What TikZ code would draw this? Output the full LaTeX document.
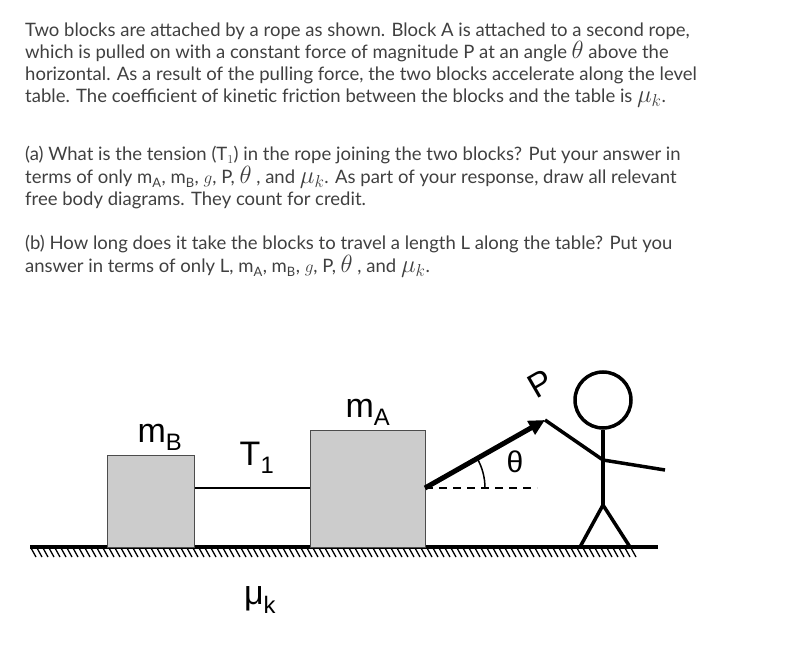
\documentclass[tikz,border=0pt]{standalone}
\usepackage{fontspec}
\setmainfont{Lato}
\newfontfamily\arial{Liberation Sans}
\usetikzlibrary{arrows.meta}
\newcommand{\bth}{{\fontsize{25}{22}\selectfont$\theta$}}
\newcommand{\bmu}{{\fontsize{25}{22}\selectfont$\mu_k$}}
\begin{document}
\begin{tikzpicture}[x=1pt,y=-1pt,
  txt/.style={anchor=base west,inner sep=0pt,font=\fontsize{18.5}{22}\selectfont,text=black!75},
  lbl/.style={font=\arial\fontsize{34}{36}\selectfont,inner sep=0pt},
  blockbox/.style={draw=black!70,fill=black!20,line width=0.8pt},
  stick/.style={line width=3.5pt}]
\useasboundingbox (0,0) rectangle (809,668);
\node[txt] (l1) at (25,37) {Two blocks are attached by a rope as shown. Block A is attached to a second rope,};
\node[txt] (l2) at (25,59) {which is pulled on with a constant force of magnitude P at an angle \bth{} above the};
\node[txt] (l3) at (25,81) {horizontal. As a result of the pulling force, the two blocks accelerate along the level};
\node[txt] (l4) at (25,103) {table. The coefficient of kinetic friction between the blocks and the table is \bmu.};
\node[txt] (l5) at (25,161) {(a) What is the tension (T$_1$) in the rope joining the two blocks? Put your answer in};
\node[txt] (l6) at (25,184) {terms of only m$_\mathrm{A}$, m$_\mathrm{B}$, $g$, P, \bth{} , and \bmu. As part of your response, draw all relevant};
\node[txt] (l7) at (25,206) {free body diagrams. They count for credit.};
\node[txt] (l8) at (25,250) {(b) How long does it take the blocks to travel a length L along the table? Put you};
\node[txt] (l9) at (25,273) {answer in terms of only L, m$_\mathrm{A}$, m$_\mathrm{B}$, $g$, P, \bth{} , and \bmu.};
% floor
\foreach \i in {30,36,...,630} \draw[line width=1.3pt] (\i+1,548) -- (\i+6,557);
\draw[line width=4pt] (30,547) -- (658,547);
% blocks
\node[blockbox,minimum width=87pt,minimum height=92pt,anchor=north west,inner sep=0pt] (B) at (107,455) {};
\node[blockbox,minimum width=115pt,minimum height=117pt,anchor=north west,inner sep=0pt] (A) at (310,430) {};
\coordinate (ra) at (310,488);
\draw[line width=1.5pt] (B.east |- ra) -- (ra);
\node[lbl] (mB) at (160,437) {m\textsubscript{B}};
\node[lbl] (T1) at (257,458) {T\textsubscript{1}};
\node[lbl] (mA) at (368,412) {m\textsubscript{A}};
\node[lbl] (mu) at (260,600) {μ\textsubscript{k}};
% force
\coordinate (f0) at (425,488);
\coordinate (hand) at (545,420);
\draw[dash pattern=on 8pt off 6pt,line width=2.2pt] (f0) -- (537,488);
\draw[line width=5pt,-{Triangle[length=16pt,width=15pt]}] (f0) -- (hand);
\draw[line width=1.5pt] (485,488) arc[start angle=0,end angle=30,radius=60pt];
\node[lbl,font=\arial\fontsize{30}{32}\selectfont] (th) at (515,462) {θ};
\node[lbl,rotate=30] (P) at (540,384) {P};
% stick figure
\node[circle,draw,line width=3.5pt,minimum size=56pt,inner sep=0pt] (head) at (603,400) {};
\coordinate (neck) at (603,460);
\coordinate (hip) at (603,505);
\draw[stick] (head.south) -- (hip);
\draw[stick] (hand) -- (neck) -- (665,470);
\draw[stick] (580,547) -- (hip) -- (630,547);
\end{tikzpicture}
\end{document}
